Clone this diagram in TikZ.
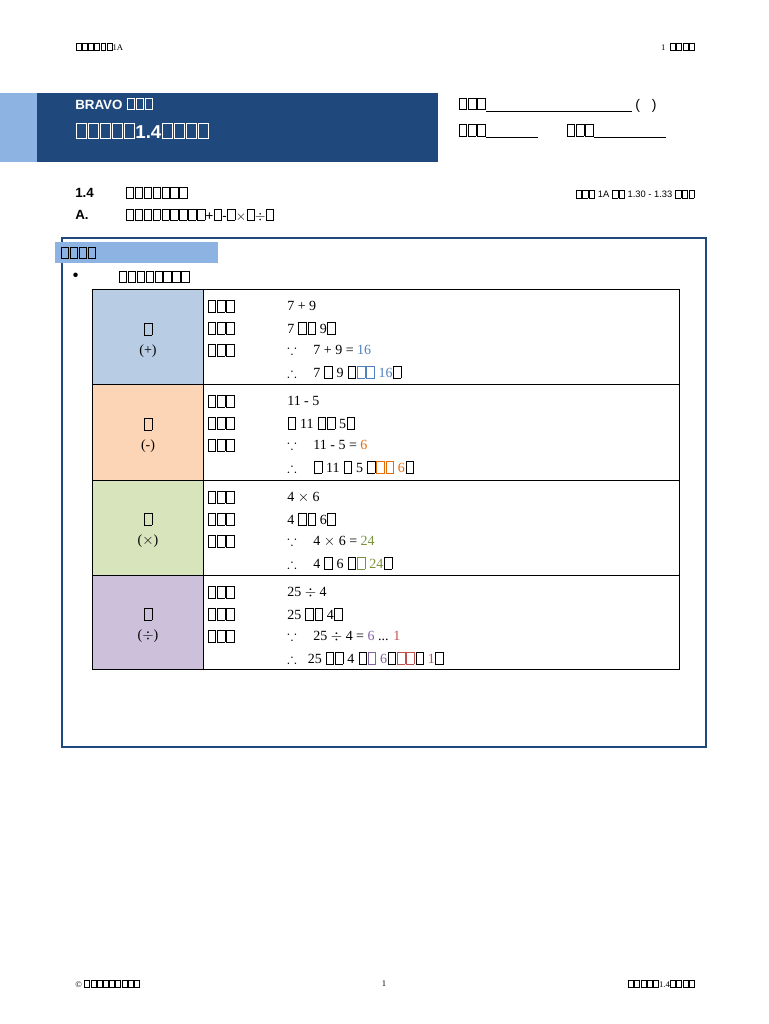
\documentclass[tikz,border=0pt]{standalone}
\usepackage{amssymb}
\usepackage{fontspec}
\setmainfont{Liberation Serif}
\setsansfont{Liberation Sans}
\definecolor{dblue}{HTML}{1F497D}
\definecolor{lblue}{HTML}{8DB3E2}
\definecolor{cb}{HTML}{B8CCE4}
\definecolor{co}{HTML}{FBD5B5}
\definecolor{cg}{HTML}{D7E4BC}
\definecolor{cp}{HTML}{CCC0DA}
\definecolor{tb}{HTML}{4F81BD}
\definecolor{to}{HTML}{E46C0A}
\definecolor{tg}{HTML}{77933C}
\definecolor{tp}{HTML}{8064A2}
\definecolor{tr}{HTML}{C0504D}
\newcommand\tfb{\kern0.04em{\fboxsep=0pt\fboxrule=0.45pt\fbox{\rule{0pt}{0.8em}\kern0.5em}}\kern0.04em}
\newcommand\T[1]{{\count255=0 \loop\ifnum\count255<#1 \tfb\advance\count255 by1 \repeat}}
\begin{document}
\begin{tikzpicture}[x=0.75pt,y=-0.75pt,
  tx/.style={anchor=west,inner sep=0pt,font=\fontsize{10.5}{12}\selectfont},
  sm/.style={anchor=west,inner sep=0pt,font=\fontsize{6.5}{8}\selectfont},
  hd/.style={anchor=west,inner sep=0pt,font=\sffamily\bfseries\fontsize{10}{12}\selectfont},
  cc/.style={inner sep=0pt,font=\fontsize{10.5}{12}\selectfont}]
\useasboundingbox (0,0) rectangle (768,1024);
\fill[white] (0,0) rectangle (768,1024);
% header
\node[sm] (h1) at (75,47) {\T{6}1A};
\node[sm,anchor=east] (h2) at (695,47) {1\ \ \T{4}};
% banner
\fill[lblue] (0,93) rectangle (37,162);
\fill[dblue] (37,93) rectangle (438,162);
\node[hd,text=white] (b1) at (75,104) {BRAVO \T{3}};
\node[hd,text=white,font=\sffamily\bfseries\fontsize{14}{16}\selectfont] (b2) at (75,131) {\T{5}1.4\T{4}};
\node[anchor=west,inner sep=0pt,font=\sffamily\fontsize{10.5}{12}\selectfont] (n1) at (458,105) {\T{3}\underline{\hspace{109pt}}\ (\ \ \ )};
\node[anchor=west,inner sep=0pt,font=\sffamily\fontsize{10.5}{12}\selectfont] (n2) at (458,131) {\T{3}\underline{\hspace{39pt}}\hspace{21pt}\T{3}\underline{\hspace{54pt}}};
% section
\node[hd] (s1) at (75,193) {1.4};
\node[hd,font=\sffamily\fontsize{10}{12}\selectfont] (s1t) at (125,193) {\T{7}};
\node[hd] (s2) at (75,215) {A.};
\node[hd,font=\sffamily\fontsize{10}{12}\selectfont] (s2t) at (125,215) {\T{9}+\T{1}-\T{1}$\times$\T{1}$\div$\T{1}};
\node[sm,anchor=east,font=\sffamily\fontsize{7}{8}\selectfont] (ref) at (695,194) {\T{3} 1A \T{2} 1.30 - 1.33 \T{3}};
% outer box
\draw[dblue,line width=1.6pt] (62,238) rectangle (706,747);
\fill[lblue] (55,242) rectangle (218,263);
\node[hd] (lab) at (60,253) {\T{4}};
\node[tx,font=\fontsize{14}{14}\selectfont] (bul) at (72,277) {\textbullet};
\node[hd,font=\sffamily\fontsize{10}{12}\selectfont] (bt) at (118,277) {\T{8}};
% table fills
\fill[cb] (92,289) rectangle (203,384);
\fill[co] (92,384) rectangle (203,480);
\fill[cg] (92,480) rectangle (203,575);
\fill[cp] (92,575) rectangle (203,669);
\draw[line width=0.6pt] (92,289) rectangle (679,669);
\draw[line width=0.6pt] (203,289) -- (203,669);
\foreach \y in {384,480,575} \draw[line width=0.6pt] (92,\y) -- (679,\y);
% col1
\node[cc] (o1) at (148,329) {\T{1}}; \node[cc] (o1b) at (148,351) {(+)};
\node[cc] (o2) at (148,424) {\T{1}}; \node[cc] (o2b) at (148,446) {(-)};
\node[cc] (o3) at (148,519) {\T{1}}; \node[cc] (o3b) at (148,541) {($\times$)};
\node[cc] (o4) at (148,614) {\T{1}}; \node[cc] (o4b) at (148,636) {($\div$)};
% rows
\foreach \y in {306,401,497,592}{
  \node[tx] at (207,\y) {\T{3}};
  \node[tx] at (207,\y+22) {\T{3}};
  \node[tx] at (207,\y+44) {\T{3}};}
\node[tx] (a1) at (287,306) {7 + 9};
\node[tx] (a2) at (287,328) {7 \T{2} 9\T{1}};
\node[tx] (a3) at (287,350) {$\because$\hspace{1.2em}7 + 9 = \textcolor{tb}{16}};
\node[tx] (a4) at (287,372) {$\therefore$\hspace{1.2em}7 \T{1} 9 \T{1}\textcolor{tb}{\T{2} 16}\T{1}};
\node[tx] (b1r) at (287,401) {11 - 5};
\node[tx] (b2r) at (287,423) {\T{1} 11 \T{2} 5\T{1}};
\node[tx] (b3r) at (287,445) {$\because$\hspace{1.2em}11 - 5 = \textcolor{to}{6}};
\node[tx] (b4r) at (287,467) {$\therefore$\hspace{1.2em}\T{1} 11 \T{1} 5 \T{1}\textcolor{to}{\T{2} 6}\T{1}};
\node[tx] (c1r) at (287,497) {4 $\times$ 6};
\node[tx] (c2r) at (287,519) {4 \T{2} 6\T{1}};
\node[tx] (c3r) at (287,541) {$\because$\hspace{1.2em}4 $\times$ 6 = \textcolor{tg}{24}};
\node[tx] (c4r) at (287,563) {$\therefore$\hspace{1.2em}4 \T{1} 6 \T{1}\textcolor{tg}{\T{1} 24}\T{1}};
\node[tx] (d1r) at (287,592) {25 $\div$ 4};
\node[tx] (d2r) at (287,614) {25 \T{2} 4\T{1}};
\node[tx] (d3r) at (287,636) {$\because$\hspace{1.2em}25 $\div$ 4 = \textcolor{tp}{6} ... \textcolor{tr}{1}};
\node[tx] (d4r) at (287,658) {$\therefore$\hspace{0.8em}25 \T{2} 4 \T{1}\textcolor{tp}{\T{1} 6}\T{1}\textcolor{tr}{\T{2}}\T{1} \textcolor{tr}{1}\T{1}};
% footer
\node[sm] (f1) at (75,984) {\copyright\ \T{9}};
\node[cc,font=\fontsize{6.5}{8}\selectfont] (f2) at (384,984) {1};
\node[sm,anchor=east] (f3) at (695,984) {\T{5}1.4\T{4}};
\end{tikzpicture}
\end{document}
